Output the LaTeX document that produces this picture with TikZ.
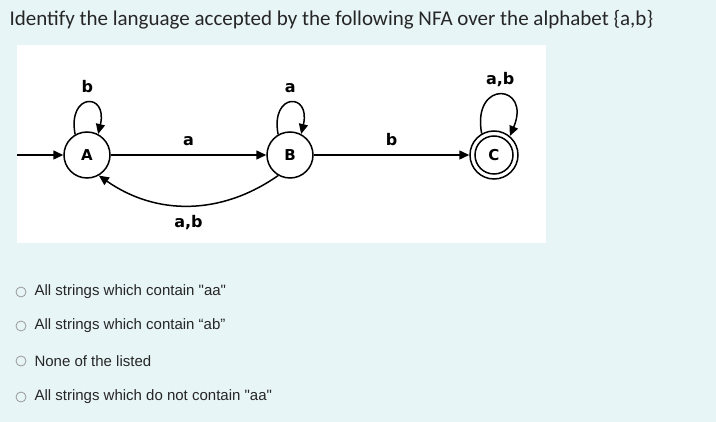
\documentclass[tikz,border=0pt]{standalone}
\usepackage{fontspec}
\setmainfont{Liberation Sans}
\newfontfamily\titlefont{Carlito}
\newfontfamily\lblfont{DejaVu Sans}
\usetikzlibrary{arrows.meta}
\definecolor{bgc}{HTML}{E8F5F7}
\begin{document}
\begin{tikzpicture}[x=1pt,y=-1pt,
 st/.style={circle,draw,line width=1.5pt,minimum size=46pt,inner sep=0pt,font=\lblfont\bfseries\fontsize{15}{15}\selectfont},
 tr/.style={line width=1.5pt,-{Triangle[length=10pt,width=9pt]}},
 lbl/.style={font=\lblfont\bfseries\fontsize{16}{16}\selectfont},
 radio/.style={circle,draw=gray!80,line width=0.8pt,minimum size=10pt,inner sep=0pt},
 opt/.style={anchor=west,font=\fontsize{15}{15}\selectfont,text=black!85}]
\fill[bgc] (0,0) rectangle (716,422);
\useasboundingbox (0,0) rectangle (716,422);
\fill[white] (17,45) rectangle (546,243);
\node[anchor=west,font=\titlefont\fontsize{21}{21}\selectfont,text=black!85] (title) at (6,20) {Identify the language accepted by the following NFA over the alphabet \{a,b\}};
\node[st] (A) at (87,155) {A};
\node[st] (B) at (290,155) {B};
\node[st,minimum size=48pt] (C) at (494,155) {C};
\node[circle,draw,line width=1.5pt,minimum size=38pt] (Ci) at (C) {};
\coordinate (s) at (17,155);
\draw[tr] (s) -- (A);
\draw[tr] (A) -- node[lbl,above=5pt] {a} (B);
\draw[tr] (B) -- node[lbl,above=5pt] {b} (C);
\draw[tr] (B.240) to[bend left=35] node[lbl,below=6pt] {a,b} (A.300);
\draw[tr] (A.120) .. controls +(-8,-42) and +(10,-42) .. node[lbl,above=6pt] {b} (A.62);
\draw[tr] (B.120) .. controls +(-8,-42) and +(10,-42) .. node[lbl,above=6pt] {a} (B.62);
\draw[tr] (C.120) .. controls +(-10,-55) and +(22,-52) .. node[lbl,above=4pt] {a,b} (C.50);
\foreach \y/\t [count=\i] in {292/All strings which contain \textquotedbl aa\textquotedbl,326/All strings which contain “ab”,361/None of the listed,397/All strings which do not contain \textquotedbl aa\textquotedbl}{
 \node[radio] (r\i) at (21,\y) {};
 \node[opt] (o\i) at (31,\y) {\t};
}
\end{tikzpicture}
\end{document}
